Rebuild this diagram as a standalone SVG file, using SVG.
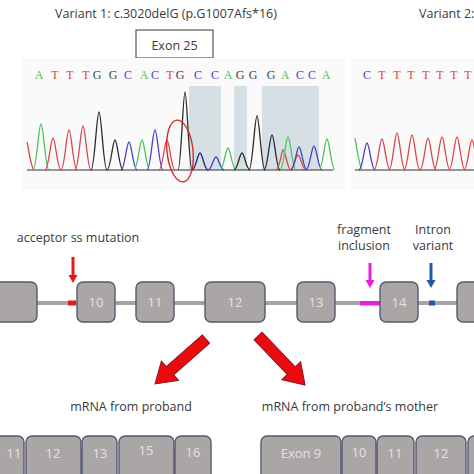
<svg xmlns="http://www.w3.org/2000/svg" width="474" height="474" viewBox="0 0 474 474">
<style>
.t{font-family:"Open Sans","Noto Sans",sans-serif;font-size:12.5px;fill:#3a3a3a}
.seq{font-family:"Liberation Serif",serif;font-size:12px}
.ex{fill:#aaa6a6;stroke:#545a73;stroke-width:1.4}
.et{font-family:"Open Sans","Noto Sans",sans-serif;font-size:13px;fill:#e4e1e1;text-anchor:middle}
.pk{fill:none;stroke-width:1.3}
.g{stroke:#4cc25a}.r{stroke:#d9474a}.k{stroke:#2b2b2b}.b{stroke:#4040c8}.n{stroke:#1a2580}
.A{fill:#4cc25a}.T{fill:#d9474a}.G{fill:#444}.C{fill:#4545c0}
.big{fill:#ea0a10;stroke:#8a1a1a;stroke-width:1}
</style>
<rect width="474" height="474" fill="#fff"/>
<g id="titles">
<text class="t" x="166" y="18" text-anchor="middle">Variant 1: c.3020delG (p.G1007Afs*16)</text>
<text class="t" x="419" y="18">Variant 2:</text>
</g>
<g id="exon25">
<rect x="136" y="30" width="77" height="28" fill="#fff" stroke="#555" stroke-width="1.2"/>
<text class="t" x="174.5" y="49.5" text-anchor="middle">Exon 25</text>
</g>
<g id="chromatogram">
<rect x="22" y="58" width="323" height="132" fill="#fafafa"/>
<rect x="350" y="58" width="124" height="132" fill="#fafafa"/>
<rect x="189" y="86" width="32" height="84" fill="#d6dfe4"/>
<rect x="234" y="86" width="13" height="84" fill="#d6dfe4"/>
<rect x="262" y="86" width="57" height="84" fill="#d6dfe4"/>
<g class="seq" text-anchor="middle">
<text x="39" y="79" class="A">A</text><text x="55" y="79" class="T">T</text><text x="70" y="79" class="T">T</text><text x="86" y="79" class="T">T</text>
<text x="97" y="79" class="G">G</text><text x="113" y="79" class="G">G</text><text x="128" y="79" class="C">C</text><text x="144" y="79" class="A">A</text>
<text x="155" y="79" class="C">C</text><text x="170" y="79" class="T">T</text><text x="180" y="79" class="G">G</text><text x="198" y="79" class="C">C</text>
<text x="215" y="79" class="C">C</text><text x="228" y="79" class="A">A</text><text x="240" y="79" class="G">G</text><text x="253" y="79" class="G">G</text>
<text x="271" y="79" class="G">G</text><text x="285" y="79" class="A">A</text><text x="300" y="79" class="C">C</text><text x="312" y="79" class="C">C</text>
<text x="326" y="79" class="A">A</text>
<text x="367" y="79" class="C">C</text><text x="382" y="79" class="T">T</text><text x="397" y="79" class="T">T</text><text x="411" y="79" class="T">T</text>
<text x="426" y="79" class="T">T</text><text x="440" y="79" class="T">T</text><text x="454" y="79" class="T">T</text><text x="468" y="79" class="T">T</text>
</g>
<line x1="27" y1="170" x2="333" y2="170" stroke="#333" stroke-width="1.2"/>
<line x1="355" y1="170" x2="474" y2="170" stroke="#333" stroke-width="1.2"/>
<path class="pk r" d="M27 142 C29 150 31 168 34 170"/>
<path class="pk g" d="M33 170 C36.6 170 38.6 124 41 124 C43.4 124 45.4 170 49 170"/>
<path class="pk r" d="M45 170 C48.6 170 50.6 138 53 138 C55.4 138 57.4 170 61 170"/>
<path class="pk r" d="M61 170 C64.6 170 66.6 130 69 130 C71.4 130 73.4 170 77 170"/>
<path class="pk r" d="M75 170 C78.6 170 80.6 126 83 126 C85.4 126 87.4 170 91 170"/>
<path class="pk k" d="M91 170 C94.6 170 96.6 112 99 112 C101.4 112 103.4 170 107 170"/>
<path class="pk k" d="M107 170 C110.6 170 112.6 140 115 140 C117.4 140 119.4 170 123 170"/>
<path class="pk b" d="M121 170 C124.6 170 126.6 142 129 142 C131.4 142 133.4 170 137 170"/>
<path class="pk g" d="M134 170 C137.6 170 139.6 140 142 140 C144.4 140 146.4 170 150 170"/>
<path class="pk b" d="M147 170 C150.6 170 152.6 130 155 130 C157.4 130 159.4 170 163 170"/>
<path class="pk r" d="M159 170 C162.6 170 164.6 140 167 140 C169.4 140 171.4 170 175 170"/>
<path class="pk k" d="M178 170 C181 170 183 92 185 92 C187 92 189 170 192 170"/>
<path class="pk n" d="M192 170 C195.6 170 197.6 153 200 153 C202.4 153 204.4 170 208 170"/>
<path class="pk b" d="M208 170 C211.6 170 213.6 157 216 157 C218.4 157 220.4 170 224 170"/>
<path class="pk g" d="M220 170 C223.6 170 225.6 148 228 148 C230.4 148 232.4 170 236 170"/>
<path class="pk k" d="M234 170 C237.6 170 239.6 153 242 153 C244.4 153 246.4 170 250 170"/>
<path class="pk k" d="M249 170 C252.6 170 254.6 116 257 116 C259.4 116 261.4 170 265 170"/>
<path class="pk k" d="M264 170 C267.6 170 269.6 135 272 135 C274.4 135 276.4 170 280 170"/>
<path class="pk r" d="M276 170 C279.6 170 281.6 150 283 150 C285.4 150 287.4 170 291 170"/>
<path class="pk g" d="M280 170 C283.6 170 285.6 137 288 137 C290.4 137 292.4 170 296 170"/>
<path class="pk r" d="M290 170 C293.6 170 295.6 155 298 155 C300.4 155 302.4 170 306 170"/>
<path class="pk b" d="M291 170 C294.6 170 296.6 147 299 147 C301.4 147 303.4 170 307 170"/>
<path class="pk b" d="M306 170 C309.6 170 311.6 146 314 146 C316.4 146 318.4 170 322 170"/>
<path class="pk g" d="M319 170 C322.6 170 324.6 139 327 139 C329.4 139 331.4 170 335 170"/>
<path class="pk g" d="M355 138 C357 150 360 168 362 170"/>
<path class="pk b" d="M359 170 C362.6 170 364.6 143 367 143 C369.4 143 371.4 170 375 170"/>
<path class="pk r" d="M374 170 C377.6 170 379.6 139 382 139 C384.4 139 386.4 170 390 170"/>
<path class="pk r" d="M389 170 C392.6 170 394.6 133 397 133 C399.4 133 401.4 170 405 170"/>
<path class="pk r" d="M404 170 C407.6 170 409.6 135 412 135 C414.4 135 416.4 170 420 170"/>
<path class="pk r" d="M420 170 C423.6 170 425.6 138 428 138 C430.4 138 432.4 170 436 170"/>
<path class="pk r" d="M434 170 C437.6 170 439.6 137 442 137 C444.4 137 446.4 170 450 170"/>
<path class="pk r" d="M449 170 C452.6 170 454.6 137 457 137 C459.4 137 461.4 170 465 170"/>
<path class="pk r" d="M464 170 C467.6 170 469.6 140 472 140 C474.4 140 476.4 170 480 170"/>
<ellipse cx="180" cy="151" rx="13" ry="31" fill="none" stroke="#d42a2a" stroke-width="1.4" transform="rotate(-6 180 151)"/>
</g>
<g id="labels">
<text class="t" x="78" y="242" text-anchor="middle">acceptor ss mutation</text>
<text class="t" x="364" y="234" text-anchor="middle">fragment</text>
<text class="t" x="364" y="250" text-anchor="middle">inclusion</text>
<text class="t" x="433" y="234" text-anchor="middle">Intron</text>
<text class="t" x="433" y="250" text-anchor="middle">variant</text>
<text class="t" x="131" y="411" text-anchor="middle">mRNA from proband</text>
<text class="t" x="350" y="411" text-anchor="middle">mRNA from proband’s mother</text>
</g>
<g id="gene-line">
<line x1="0" y1="303" x2="474" y2="303" stroke="#a4a4a4" stroke-width="4"/>
<rect x="68" y="300.5" width="8" height="5" fill="#e41a1a"/>
<rect x="360" y="301" width="20" height="4.5" fill="#e61ee0"/>
<rect x="429" y="300.5" width="6" height="5" fill="#1e5aa8"/>
</g>
<g id="gene-exons">
<g id="g-exon9"><rect class="ex" x="-8" y="282" width="45" height="40" rx="6"/></g>
<g id="g-exon10"><rect class="ex" x="77" y="282" width="38" height="40" rx="6"/><text class="et" x="96" y="307">10</text></g>
<g id="g-exon11"><rect class="ex" x="136" y="282" width="38" height="40" rx="6"/><text class="et" x="155" y="307">11</text></g>
<g id="g-exon12"><rect class="ex" x="205" y="282" width="60" height="40" rx="6"/><text class="et" x="235" y="307">12</text></g>
<g id="g-exon13"><rect class="ex" x="297" y="282" width="38" height="40" rx="6"/><text class="et" x="316" y="307">13</text></g>
<g id="g-exon14"><rect class="ex" x="380" y="282" width="38" height="40" rx="6"/><text class="et" x="399" y="307">14</text></g>
<g id="g-exon15"><rect class="ex" x="457" y="282" width="40" height="40" rx="6"/></g>
</g>
<g id="connectors">
<line x1="73" y1="257" x2="73" y2="276" stroke="#e41a1a" stroke-width="3"/>
<polygon points="68.5,275 77.5,275 73,283" fill="#e41a1a"/>
<line x1="370" y1="263" x2="370" y2="281" stroke="#e61ee0" stroke-width="3"/>
<polygon points="365.5,280 374.5,280 370,288" fill="#e61ee0"/>
<line x1="431" y1="263" x2="431" y2="281" stroke="#1e5aa8" stroke-width="3"/>
<polygon points="426.5,280 435.5,280 431,288" fill="#1e5aa8"/>
<polygon class="big" points="0,-5.5 48,-5.5 48,-13 68,0 48,13 48,5.5 0,5.5" transform="translate(206 339) rotate(138.6)"/>
<polygon class="big" points="0,-5.5 48,-5.5 48,-13 68,0 48,13 48,5.5 0,5.5" transform="translate(258 336) rotate(46.2)"/>
</g>
<g id="mrna-proband">
<g id="p11"><rect class="ex" x="-20" y="436" width="44" height="44" rx="6"/><text class="et" x="14" y="458">11</text></g>
<g id="p12"><rect class="ex" x="26" y="436" width="55" height="44" rx="6"/><text class="et" x="53" y="458">12</text></g>
<g id="p13"><rect class="ex" x="82" y="436" width="35" height="44" rx="6"/><text class="et" x="100" y="458">13</text></g>
<g id="p15"><rect class="ex" x="119" y="436" width="55" height="44" rx="6"/><text class="et" x="146" y="455">15</text></g>
<g id="p16"><rect class="ex" x="175" y="436" width="36" height="44" rx="6"/><text class="et" x="193" y="457">16</text></g>
</g>
<g id="mrna-mother">
<g id="m9"><rect class="ex" x="261" y="436" width="80" height="44" rx="6"/><text class="et" x="301" y="458">Exon 9</text></g>
<g id="m10"><rect class="ex" x="342" y="436" width="34" height="44" rx="6"/><text class="et" x="359" y="457">10</text></g>
<g id="m11"><rect class="ex" x="377" y="436" width="37" height="44" rx="6"/><text class="et" x="395" y="458">11</text></g>
<g id="m12"><rect class="ex" x="416" y="436" width="50" height="44" rx="6"/><text class="et" x="441" y="458">12</text></g>
<g id="m13"><rect class="ex" x="468" y="436" width="30" height="44" rx="6"/></g>
</g>
</svg>
